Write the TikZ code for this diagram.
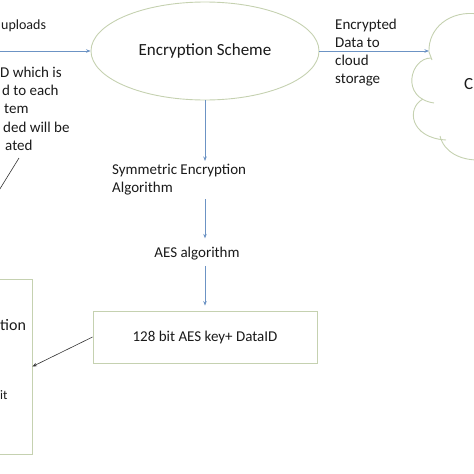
\documentclass[tikz,border=0pt]{standalone}
\usepackage{fontspec}
\setmainfont{Carlito}
\usetikzlibrary{shapes.geometric,arrows.meta}
\definecolor{arrblue}{HTML}{6C93C4}
\definecolor{olivegr}{HTML}{C5D1B0}
\definecolor{txt}{HTML}{1A1A1A}
\begin{document}
\begin{tikzpicture}[x=1pt,y=-1pt,
  lbl/.style={font=\fontsize{15}{18}\selectfont, text=txt, inner sep=0pt, align=left},
  big/.style={font=\fontsize{17}{20}\selectfont, text=txt, inner sep=0pt},
  barrow/.style={draw=arrblue, line width=0.7pt, -{Stealth[length=4.5pt,width=3.5pt]}},
  karrow/.style={draw=black!80, line width=0.6pt, -{Stealth[length=4.5pt,width=3.5pt]}},
  gbox/.style={draw=olivegr, line width=0.9pt}]
\useasboundingbox (0,0) rectangle (474,474);
\clip (0,0) rectangle (474,474);
% top-left texts
\node[lbl, font=\fontsize{14}{18}\selectfont, anchor=base west] (up) at (1,29) {uploads};
\node[lbl, anchor=base west] (t1) at (0,77) {D which is};
\node[lbl, anchor=base west] (t2) at (2,95) {d to each};
\node[lbl, anchor=base west] (t3) at (4,113) {tem};
\node[lbl, anchor=base west] (t4) at (3,132) {ded will be};
\node[lbl, anchor=base west] (t5) at (5,150) {ated};
\coordinate (d1) at (19,158);
\coordinate (d2) at (-2,192);
\draw[black!80, line width=0.6pt] (d1) -- (d2);
% ellipse
\node[gbox, ellipse, minimum width=228pt, minimum height=98pt, big] (ell) at (205,51) {Encryption Scheme};
\coordinate (upstart) at (0,51);
\draw[barrow] (upstart) -- (ell.west);
% cloud
\coordinate (cloudL) at (429,51);
\draw[gbox] (478,14) .. controls (450,10) and (428,28) .. (429,52) .. controls (430,56) .. (432,60);
\draw[gbox] (431,58) .. controls (410,58) and (400,98) .. (434,103);
\draw[gbox] (423,99) .. controls (406,108) and (410,138) .. (446,140);
\draw[gbox] (440,136) .. controls (444,152) and (460,160) .. (478,160);
\node[big, anchor=base west] (cl) at (464,89) {C};
\draw[barrow] (ell.east) -- (cloudL);
\node[lbl, anchor=north west] (enc) at (335,19) {Encrypted\\Data to\\cloud\\storage};
% chain
\node[lbl, anchor=north west] (symm) at (112,164) {Symmetric Encryption\\Algorithm};
\draw[barrow, shorten >=3pt] (ell.south) -- (symm.north -| ell.south);
\node[lbl, anchor=base] (aes) at (197,257) {AES algorithm};
\draw[barrow, shorten <=4pt, shorten >=8pt] (symm.south -| ell.south) -- (aes.north -| ell.south);
\node[gbox, rectangle, minimum width=224pt, minimum height=52pt, lbl] (key) at (205,337) {128 bit AES key+ DataID};
\draw[barrow, shorten <=6pt, shorten >=5pt] (aes.south -| ell.south) -- (key.north);
% left box
\node[gbox, rectangle, minimum width=80pt, minimum height=175pt, inner sep=0pt] (lbox) at (-8,366.5) {};
\node[lbl, font=\fontsize{16}{18}\selectfont, anchor=base west] (tion) at (0,330) {tion};
\node[lbl, font=\fontsize{13}{15}\selectfont, anchor=base west] (bit) at (0,399) {it};
\draw[karrow] (key.west) -- (lbox.east);
\end{tikzpicture}
\end{document}
